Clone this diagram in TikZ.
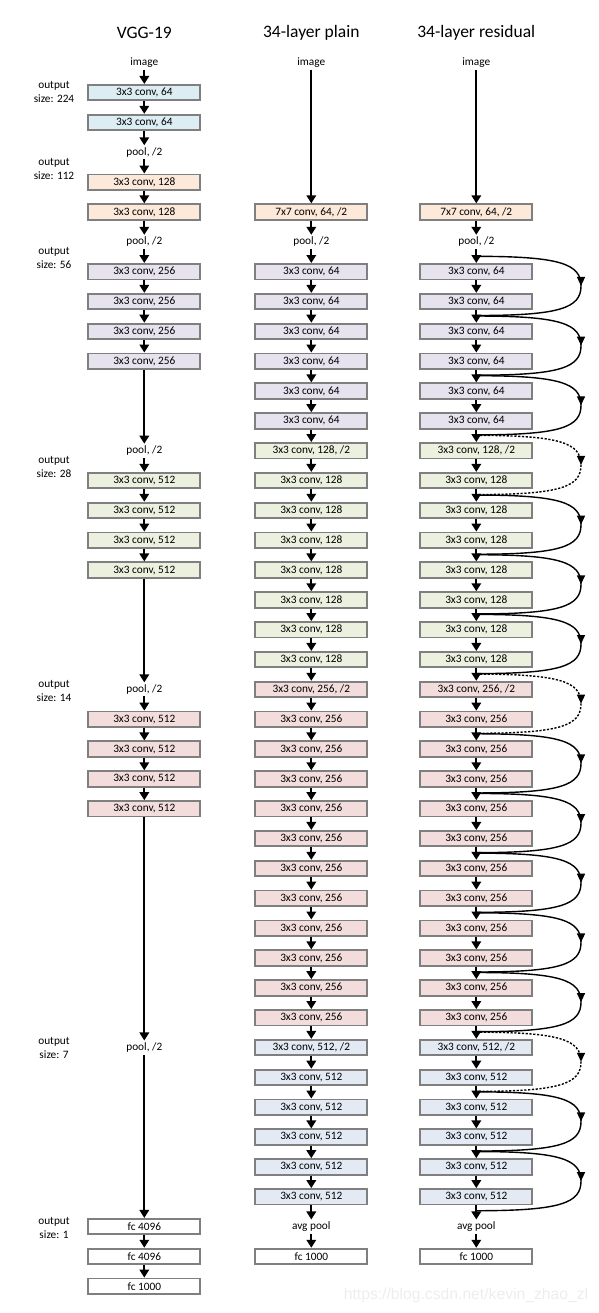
\documentclass[tikz,border=0pt]{standalone}
\usepackage{fontspec}
\setmainfont{Carlito}
\newfontfamily\wmfont{Liberation Sans}
\usetikzlibrary{arrows.meta,decorations.markings,calc}
\definecolor{cAqua}{HTML}{DCEEF4}
\definecolor{cPeach}{HTML}{FDE9D9}
\definecolor{cLav}{HTML}{E7E3EE}
\definecolor{cGreen}{HTML}{EBF1DE}
\definecolor{cPink}{HTML}{F2DDDC}
\definecolor{cBlue}{HTML}{E3EAF4}
\definecolor{cBorder}{HTML}{7F7F7F}
\definecolor{cWm}{HTML}{EDEDED}
\tikzset{
  box/.style={draw=cBorder, line width=1.8pt, minimum width=112pt, minimum height=15.5pt,
    inner sep=0pt, font=\fontsize{11.3}{11}\selectfont},
  lbl/.style={inner sep=2pt, font=\fontsize{11.3}{11}\selectfont},
  side/.style={align=center, inner sep=0pt, font=\fontsize{11.3}{14}\selectfont},
  ttl/.style={inner sep=0pt, font=\fontsize{17.5}{18}\selectfont},
  arr/.style={line width=1.9pt, -{Triangle[width=9.5pt,length=8pt]}},
  skip/.style={line width=1.4pt, postaction={decorate},
    decoration={markings, mark=at position 0.5 with {\arrow{Triangle[width=8pt,length=9pt]}}}},
  dskip/.style={skip, dash pattern=on 2.2pt off 1.6pt},
}
\begin{document}
\begin{tikzpicture}[x=1pt,y=-1pt]
\useasboundingbox (0,0) rectangle (598,1313);
\def\Y#1{{212+29.84*(#1)}}
% titles
\node[ttl] (t1) at (144.3,33) {VGG-19};
\node[ttl] (t2) at (311.3,33) {34-layer plain};
\node[ttl] (t3) at (476.3,33) {34-layer residual};
% side labels
\node[side] (o1) at (54,92.3) {output\\size: 224};
\node[side] (o2) at (54,169.3) {output\\size: 112};
\node[side] (o3) at (54,258) {output\\size: 56};
\node[side] (o4) at (54,467) {output\\size: 28};
\node[side] (o5) at (54,691) {output\\size: 14};
\node[side] (o6) at (54,1048) {output\\size: 7};
\node[side] (o7) at (54,1228) {output\\size: 1};
% VGG column
\def\vx{144.3}
\node[lbl] (v1) at (\vx,\Y{-5}) {image};
\node[box,fill=cAqua] (v2) at (\vx,\Y{-4}) {3x3 conv, 64};
\node[box,fill=cAqua] (v3) at (\vx,\Y{-3}) {3x3 conv, 64};
\node[lbl] (v4) at (\vx,\Y{-2}) {pool, /2};
\node[box,fill=cPeach] (v5) at (\vx,\Y{-1}) {3x3 conv, 128};
\node[box,fill=cPeach] (v6) at (\vx,\Y{0}) {3x3 conv, 128};
\node[lbl] (v7) at (\vx,\Y{1}) {pool, /2};
\node[box,fill=cLav] (v8) at (\vx,\Y{2}) {3x3 conv, 256};
\node[box,fill=cLav] (v9) at (\vx,\Y{3}) {3x3 conv, 256};
\node[box,fill=cLav] (v10) at (\vx,\Y{4}) {3x3 conv, 256};
\node[box,fill=cLav] (v11) at (\vx,\Y{5}) {3x3 conv, 256};
\node[lbl] (v12) at (\vx,\Y{8}) {pool, /2};
\node[box,fill=cGreen] (v13) at (\vx,\Y{9}) {3x3 conv, 512};
\node[box,fill=cGreen] (v14) at (\vx,\Y{10}) {3x3 conv, 512};
\node[box,fill=cGreen] (v15) at (\vx,\Y{11}) {3x3 conv, 512};
\node[box,fill=cGreen] (v16) at (\vx,\Y{12}) {3x3 conv, 512};
\node[lbl] (v17) at (\vx,\Y{16}) {pool, /2};
\node[box,fill=cPink] (v18) at (\vx,\Y{17}) {3x3 conv, 512};
\node[box,fill=cPink] (v19) at (\vx,\Y{18}) {3x3 conv, 512};
\node[box,fill=cPink] (v20) at (\vx,\Y{19}) {3x3 conv, 512};
\node[box,fill=cPink] (v21) at (\vx,\Y{20}) {3x3 conv, 512};
\node[lbl] (v22) at (\vx,\Y{28}) {pool, /2};
\node[box,fill=white] (v23) at (\vx,\Y{34}) {fc 4096};
\node[box,fill=white] (v24) at (\vx,\Y{35}) {fc 4096};
\node[box,fill=white] (v25) at (\vx,\Y{36}) {fc 1000};
\foreach \i [evaluate=\i as \n using int(\i+1)] in {1,...,24}
  \draw[arr] (v\i) -- (v\n);
% plain and residual columns
\foreach \c/\x in {m/311.3, r/476.3} {
  \node[lbl] (\c img) at (\x,\Y{-5}) {image};
  \node[box,fill=cPeach] (\c0) at (\x,\Y{0}) {7x7 conv, 64, /2};
  \node[lbl] (\c1) at (\x,\Y{1}) {pool, /2};
  \foreach \r in {2,...,7}
    \node[box,fill=cLav] (\c\r) at (\x,\Y{\r}) {3x3 conv, 64};
  \node[box,fill=cGreen] (\c8) at (\x,\Y{8}) {3x3 conv, 128, /2};
  \foreach \r in {9,...,15}
    \node[box,fill=cGreen] (\c\r) at (\x,\Y{\r}) {3x3 conv, 128};
  \node[box,fill=cPink] (\c16) at (\x,\Y{16}) {3x3 conv, 256, /2};
  \foreach \r in {17,...,27}
    \node[box,fill=cPink] (\c\r) at (\x,\Y{\r}) {3x3 conv, 256};
  \node[box,fill=cBlue] (\c28) at (\x,\Y{28}) {3x3 conv, 512, /2};
  \foreach \r in {29,...,33}
    \node[box,fill=cBlue] (\c\r) at (\x,\Y{\r}) {3x3 conv, 512};
  \node[lbl] (\c34) at (\x,\Y{34}) {avg pool};
  \node[box,fill=white] (\c35) at (\x,\Y{35}) {fc 1000};
  \draw[arr] (\c img) -- (\c0);
  \foreach \r [evaluate=\r as \n using int(\r+1)] in {0,...,34}
    \draw[arr] (\c\r) -- (\c\n);
}
% shortcut connections
\foreach \i in {0,...,15} {
  \pgfmathsetmacro{\ya}{212+29.84*(1+2*\i)+14.5}
  \pgfmathsetmacro{\yb}{212+29.84*(3+2*\i)+14}
  \pgfmathsetmacro{\ym}{(\ya+\yb)/2}
  \coordinate (s\i) at (476.3,\ya);
  \coordinate (e\i) at (476.3,\yb);
  \coordinate (k\i) at (581,\ym);
}
\foreach \i in {0,1,2,4,5,6,8,9,10,11,12,14,15}
  \draw[skip] (s\i) .. controls ($(s\i)+(84,0)$) and ($(k\i)+(0,-22)$) .. (k\i)
              .. controls ($(k\i)+(0,22)$) and ($(e\i)+(84,0)$) .. (e\i);
\foreach \i in {3,7,13}
  \draw[dskip] (s\i) .. controls ($(s\i)+(84,0)$) and ($(k\i)+(0,-22)$) .. (k\i)
              .. controls ($(k\i)+(0,22)$) and ($(e\i)+(84,0)$) .. (e\i);
% watermark
\node[inner sep=0pt, text=cWm, font=\wmfont\fontsize{15.7}{16}\selectfont] (wm) at (466,1295) {https://blog.csdn.net/kevin\_zhao\_zl};
\end{tikzpicture}
\end{document}
